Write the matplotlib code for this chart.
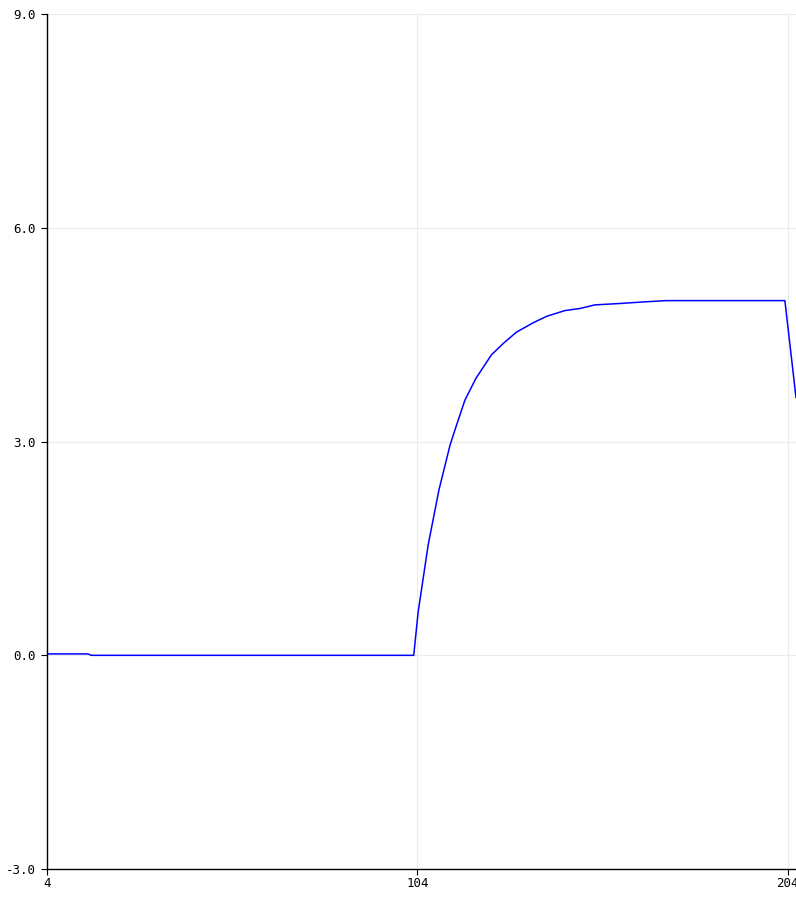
import matplotlib
matplotlib.use("Agg")
import matplotlib.pyplot as plt

# values
x_vals = [4, 15, 16, 103, 104.2, 106.9, 109.8, 112.8, 114.1, 116.8, 119.8,
          124.0, 127.2, 130.8, 135.3, 138.9, 143.8, 147.9, 151.9, 158.7,
          164.5, 171.1, 203.2, 206.2]
y_vals = [0.02, 0.02, 0.0, 0.0, 0.61, 1.55, 2.32, 2.95, 3.16, 3.58, 3.89,
          4.22, 4.38, 4.54, 4.67, 4.76, 4.84, 4.87, 4.92, 4.94,
          4.96, 4.98, 4.98, 3.62]

x_ticks = [4, 104, 204]
y_ticks = [-3.0, 0.0, 3.0, 6.0, 9.0]
y_tick_labels = ["-3.0", "0.0", "3.0", "6.0", "9.0"]

fig = plt.figure(figsize=(7.96, 9.01), dpi=100)
ax = fig.add_axes([47 / 796, 32 / 901, 749 / 796, 854.7 / 901])

ax.plot(x_vals, y_vals, color="#0000ff", linewidth=1.1)

ax.set_xlim(4, 206.2)
ax.set_ylim(-3, 9)
ax.set_xticks(x_ticks)
ax.set_xticklabels([str(t) for t in x_ticks])
ax.set_yticks(y_ticks)
ax.set_yticklabels(y_tick_labels)

ax.grid(True, color="#ececec", linewidth=0.8)
ax.set_axisbelow(True)

for side in ["top", "right"]:
    ax.spines[side].set_visible(False)
for side in ["left", "bottom"]:
    ax.spines[side].set_color("black")
    ax.spines[side].set_linewidth(1.0)

ax.tick_params(axis="y", length=4, width=0.8, pad=4, labelsize=9)
ax.tick_params(axis="x", length=4, width=0.8, pad=2, labelsize=9)
for lbl in ax.get_xticklabels() + ax.get_yticklabels():
    lbl.set_family("DejaVu Sans Mono")

fig.savefig("out.png", dpi=100)
